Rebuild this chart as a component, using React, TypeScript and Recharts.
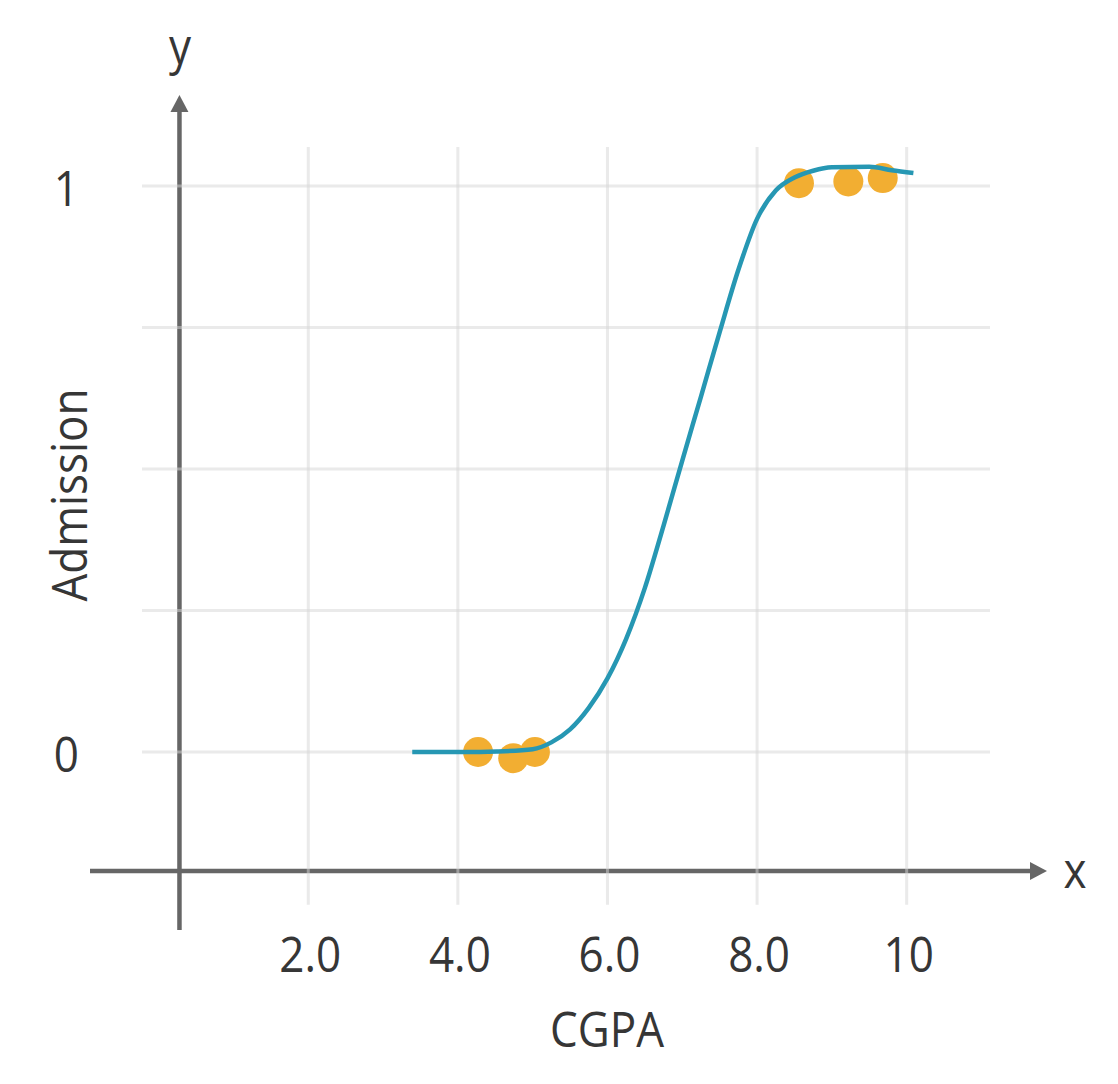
import React from 'react';
import { ComposedChart, Line, Scatter, XAxis, YAxis, ReferenceLine, Label } from 'recharts';

// Fitted logistic curve (CGPA -> admission probability)
const curveCgpa = [3.39, 4.07, 4.52, 5.0, 5.25, 5.5, 5.75, 6.0, 6.25, 6.5, 6.75, 7.0, 7.25, 7.5, 7.75, 8.0, 8.25, 8.5, 8.75, 9.0, 9.5, 9.8, 10.09];
const curveAdmission = [0, 0, 0.001, 0.005, 0.017, 0.04, 0.078, 0.13, 0.2, 0.29, 0.4, 0.515, 0.628, 0.742, 0.852, 0.942, 0.992, 1.015, 1.027, 1.033, 1.034, 1.028, 1.023];

// Observed students
const pointCgpa = [4.27, 4.74, 5.03, 8.56, 9.22, 9.68];
const pointAdmission = [0, -0.011, 0, 1.005, 1.008, 1.014];

const xTicks = [2, 4, 6, 8, 10];
const xTickLabels = ['2.0', '4.0', '6.0', '8.0', '10'];
const yTicks = [0, 1];
const yTickLabels = ['0', '1'];
const yGrid = [0, 0.25, 0.5, 0.75, 1];

const X_DOMAIN: [number, number] = [-0.918, 11.876];
const Y_DOMAIN: [number, number] = [-0.3145, 1.1608];
const Y_AXIS_AT = 0.278;
const X_AXIS_AT = -0.2102;
const VGRID_RANGE: [number, number] = [-0.27, 1.069];
const HGRID_RANGE: [number, number] = [-0.223, 11.114];

const curveData = curveCgpa.map((x, i) => ({ x, y: curveAdmission[i] }));
const pointData = pointCgpa.map((x, i) => ({ x, y: pointAdmission[i] }));

const FONT = "'Open Sans', 'Noto Sans', sans-serif";
const TEXT = '#363636';
const AXIS = '#666666';

const ArrowLine = (props: any) => {
  const { x1, y1, x2, y2 } = props;
  const dx = x2 - x1;
  const dy = y2 - y1;
  const len = Math.sqrt(dx * dx + dy * dy) || 1;
  const ux = dx / len;
  const uy = dy / len;
  const head = 17;
  const half = 9;
  const bx = x2 - ux * head;
  const by = y2 - uy * head;
  const px = -uy;
  const py = ux;
  return (
    <g>
      <line x1={x1} y1={y1} x2={bx + ux * 2} y2={by + uy * 2} stroke={AXIS} strokeWidth={4.5} />
      <polygon
        points={`${x2},${y2} ${bx + px * half},${by + py * half} ${bx - px * half},${by - py * half}`}
        fill={AXIS}
      />
    </g>
  );
};

const txt = (x: number, y: number, s: string, anchor: string, extra = '') => (
  <text
    transform={`translate(${x},${y})${extra} scale(0.88,1)`}
    textAnchor={anchor as any}
    fontFamily={FONT}
    fontSize={50}
    fill={TEXT}
  >
    {s}
  </text>
);

const XTick = (props: any) => {
  const { x, y, index } = props;
  return txt(x + 2, y + 42, xTickLabels[index] ?? '', 'middle');
};

const YTick = (props: any) => {
  const { x, y, index } = props;
  return txt(x - 11, y + 20, yTickLabels[index] ?? '', 'end');
};

const Dot = (props: any) => {
  const { cx, cy } = props;
  return <circle cx={cx} cy={cy} r={15} fill="#F2AE32" />;
};

export default function App() {
  return (
    <div style={{ width: 1102, height: 1068 }}>
      <ComposedChart
        width={1102}
        height={1068}
        margin={{ top: 87, right: 63, bottom: 116, left: 22 }}
      >
        <XAxis
          type="number"
          dataKey="x"
          domain={X_DOMAIN}
          allowDataOverflow
          ticks={xTicks}
          tick={<XTick />}
          tickLine={false}
          axisLine={false}
          tickSize={0}
          tickMargin={0}
          height={30}
          interval={0}
        >
          <Label content={() => txt(599, 1039, 'CGPA', 'middle')} />
        </XAxis>
        <YAxis
          type="number"
          dataKey="y"
          domain={Y_DOMAIN}
          allowDataOverflow
          ticks={yTicks}
          tick={<YTick />}
          tickLine={false}
          axisLine={false}
          tickSize={0}
          tickMargin={0}
          width={60}
          interval={0}
        >
          <Label content={() => txt(79, 487, 'Admission', 'middle', ' rotate(-90)')} />
        </YAxis>

        <ReferenceLine
          zIndex={-60}
          ifOverflow="visible"
          segment={[{ x: Y_AXIS_AT, y: Y_DOMAIN[0] }, { x: Y_AXIS_AT, y: Y_DOMAIN[1] }]}
          shape={ArrowLine}
          label={<Label content={() => txt(172, 56, 'y', 'middle')} />}
        />
        <ReferenceLine
          zIndex={-60}
          ifOverflow="visible"
          segment={[{ x: X_DOMAIN[0], y: X_AXIS_AT }, { x: X_DOMAIN[1], y: X_AXIS_AT }]}
          shape={ArrowLine}
          label={<Label content={() => txt(1067, 880, 'x', 'middle')} />}
        />

        {xTicks.map((t) => (
          <ReferenceLine
            key={`vg${t}`}
            zIndex={-50}
            ifOverflow="visible"
            segment={[{ x: t, y: VGRID_RANGE[0] }, { x: t, y: VGRID_RANGE[1] }]}
            stroke="#d6d6d6"
            strokeOpacity={0.5}
            strokeWidth={3}
          />
        ))}
        {yGrid.map((t) => (
          <ReferenceLine
            key={`hg${t}`}
            zIndex={-50}
            ifOverflow="visible"
            segment={[{ x: HGRID_RANGE[0], y: t }, { x: HGRID_RANGE[1], y: t }]}
            stroke="#d6d6d6"
            strokeOpacity={0.5}
            strokeWidth={3}
          />
        ))}

        <Scatter
          data={pointData}
          dataKey="y"
          shape={Dot}
          isAnimationActive={false}
          zIndex={600}
        />
        <Line
          data={curveData}
          dataKey="y"
          type="monotone"
          stroke="#2697B3"
          strokeWidth={4.5}
          dot={false}
          activeDot={false}
          isAnimationActive={false}
          zIndex={700}
        />
      </ComposedChart>
    </div>
  );
}
